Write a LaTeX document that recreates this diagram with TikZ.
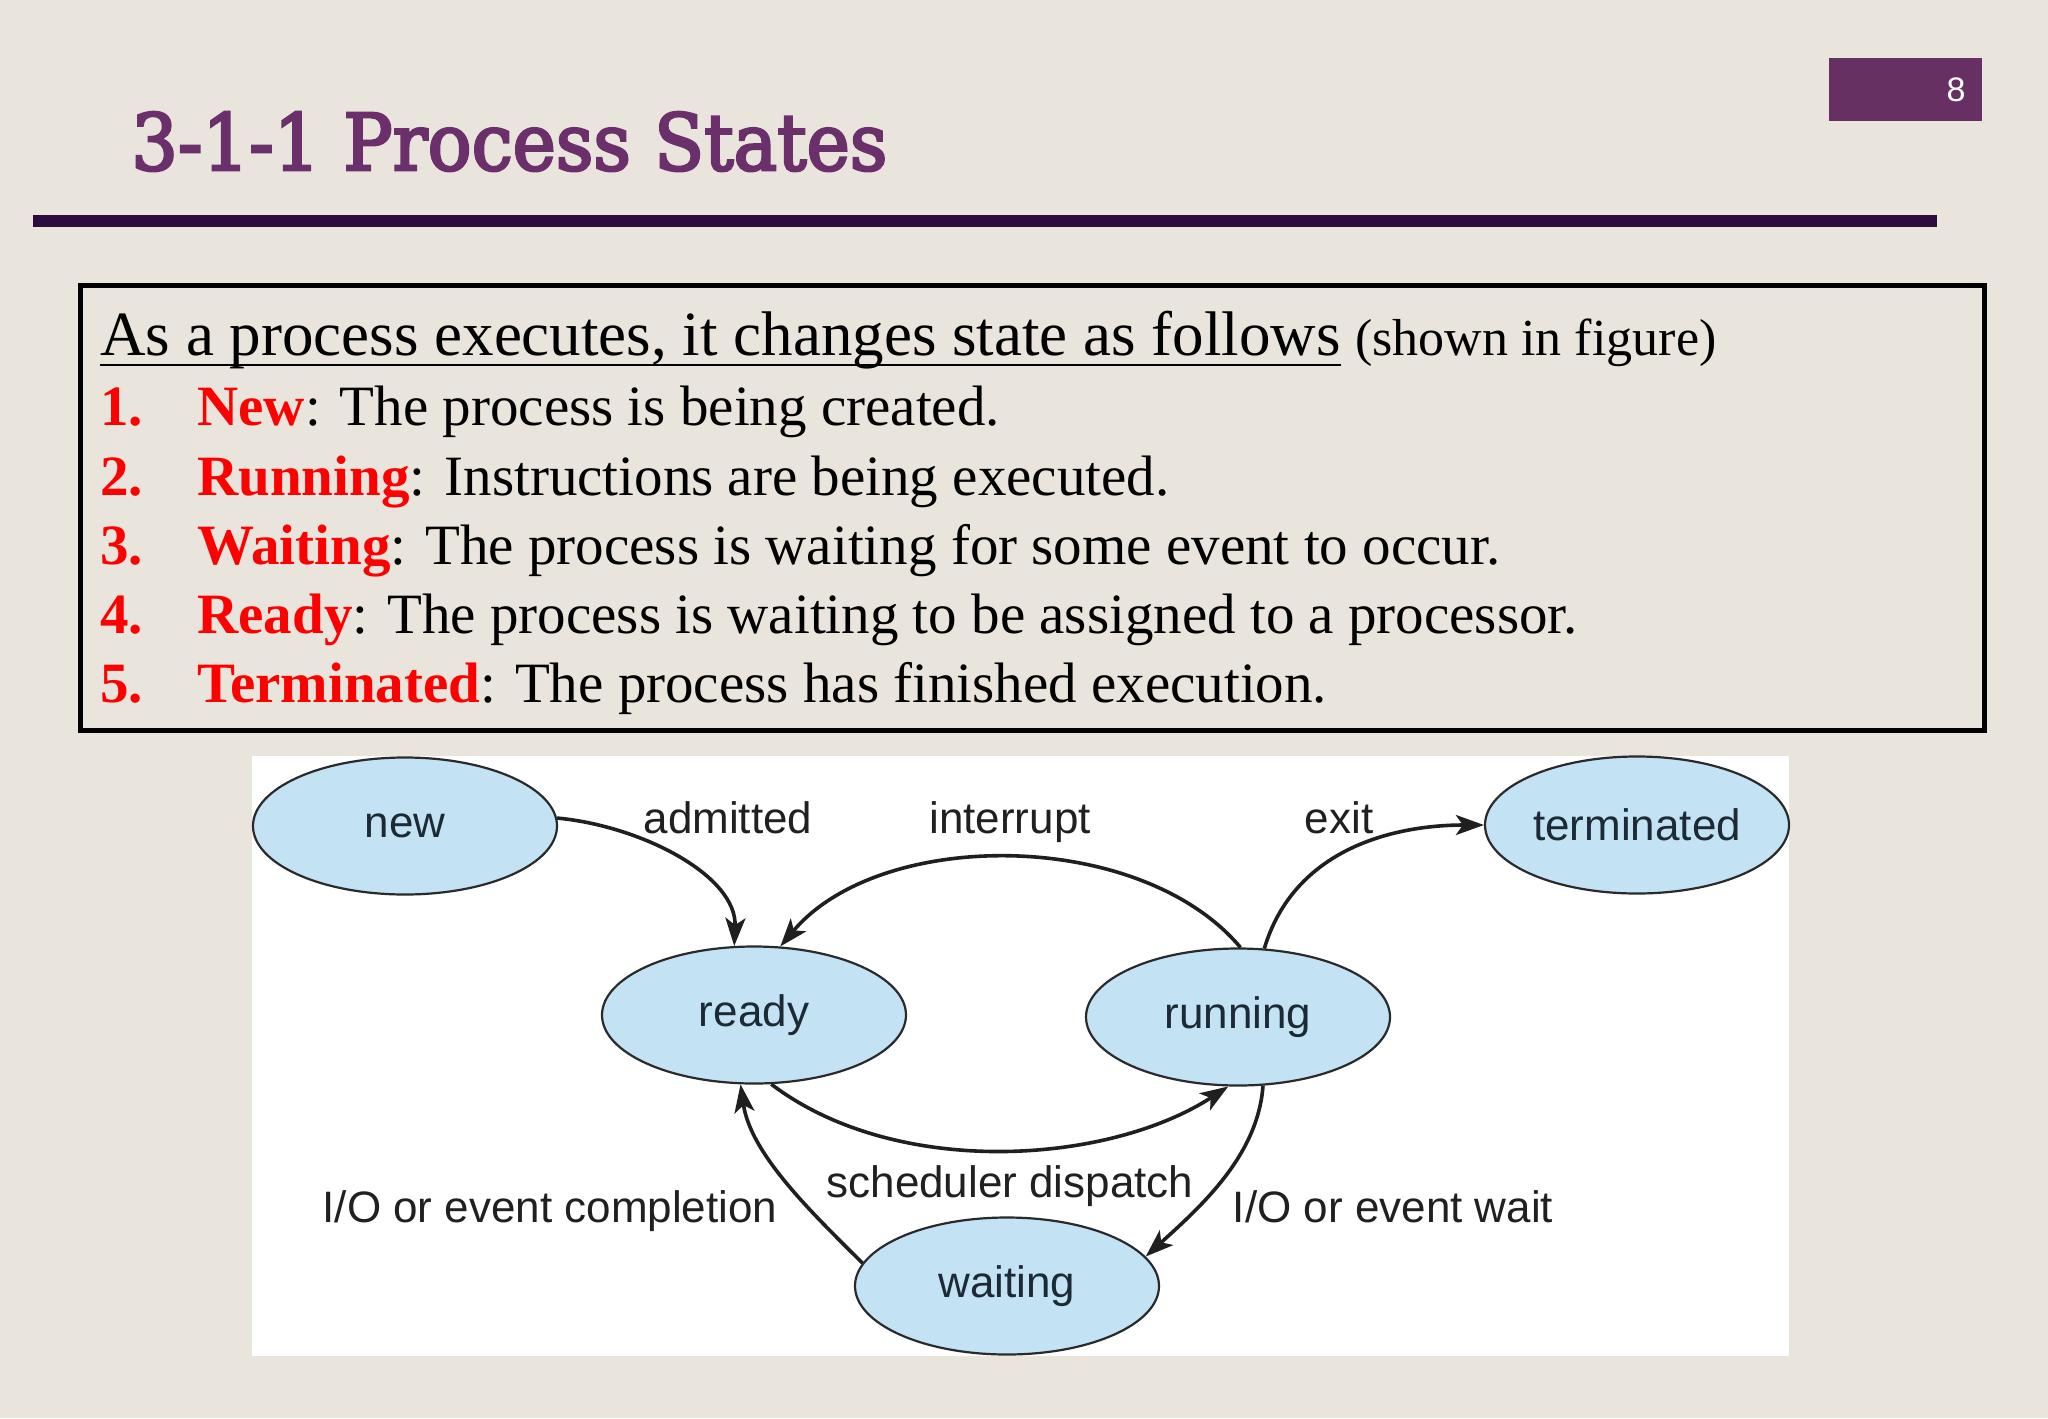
\documentclass[tikz,border=0pt]{standalone}
\usepackage{fontspec}
\usepackage{graphicx}
\setmainfont{Liberation Serif}
\newfontfamily\diagfont{Liberation Sans}
\newfontfamily\titlefont[FakeBold=3.5]{DejaVu Serif}
\usetikzlibrary{arrows.meta,shapes.geometric}
\definecolor{bg}{HTML}{E9E4DC}
\definecolor{titlec}{HTML}{6B2F6B}
\definecolor{barc}{HTML}{2E0C3E}
\definecolor{pagec}{HTML}{663062}
\definecolor{itemred}{HTML}{FF0000}
\definecolor{ellfill}{HTML}{C3E3F5}
\definecolor{ellborder}{HTML}{2A2A2A}
\definecolor{nodetext}{HTML}{1C2A36}
\definecolor{labeltext}{HTML}{202020}
\tikzset{
  state/.style={ellipse, draw=ellborder, fill=ellfill, line width=1.1pt,
    minimum width=152pt, minimum height=68.5pt, inner sep=0pt,
    font=\diagfont\fontsize{22}{26}\selectfont, text=nodetext},
  trans/.style={line width=1.8pt, draw=black!88,
    -{Stealth[length=14pt,width=10pt,inset=3.5pt]}},
  edgelabel/.style={anchor=base, inner sep=0pt,
    font=\diagfont\fontsize{22}{26}\selectfont, text=labeltext},
  itemnum/.style={anchor=base west, inner sep=0pt, text=itemred,
    font=\bfseries\fontsize{28.5}{33}\selectfont},
  itemtext/.style={anchor=base west, inner sep=0pt,
    font=\fontsize{28.5}{33}\selectfont},
}
\newcommand{\redword}[1]{\textcolor{itemred}{\textbf{#1}}}
\begin{document}
\begin{tikzpicture}[x=0.5pt,y=-0.5pt]
  % background and bounding box
  \fill[bg] (0,0) rectangle (2048,1418);
  \useasboundingbox (0,0) rectangle (2048,1418);

  % page number box
  \node[fill=pagec, minimum width=76.5pt, minimum height=31.5pt, inner sep=0pt]
    (pagebox) at (1905.5,89.5) {};
  \node[anchor=east, inner sep=0pt, text=white,
    font=\diagfont\fontsize{17}{20}\selectfont] (pagenum) at (1966,90) {8};

  % title and rule
  \node[anchor=base west, inner sep=0pt, text=titlec] (title) at (131,170)
    {\resizebox{378pt}{29pt}{\titlefont 3-1-1 Process States}};
  \fill[barc] (33,215) rectangle (1937,227);

  % text box
  \draw[line width=2.5pt] (80.5,285.5) rectangle (1984.5,730.5);
  \node[anchor=base west, inner sep=0pt, font=\fontsize{31.5}{36}\selectfont]
    (intro) at (100,355) {As a process executes, it changes state as follows};
  \draw[line width=1.3pt] ([yshift=-5pt]intro.base west) -- ([yshift=-5pt]intro.base east);
  \node[anchor=base west, inner sep=0pt, font=\fontsize{26}{30}\selectfont]
    (intronote) at (1355,355) {(shown in figure)};

  \node[itemnum] (n1) at (100,425) {1.};
  \node[itemtext] (t1) at (197,425) {\redword{New}: The process is being created.};
  \node[itemnum] (n2) at (100,495) {2.};
  \node[itemtext] (t2) at (197,495) {\redword{Running}: Instructions are being executed.};
  \node[itemnum] (n3) at (100,564) {3.};
  \node[itemtext] (t3) at (197,564) {\redword{Waiting}: The process is waiting for some event to occur.};
  \node[itemnum] (n4) at (100,633) {4.};
  \node[itemtext] (t4) at (197,633) {\redword{Ready}: The process is waiting to be assigned to a processor.};
  \node[itemnum] (n5) at (100,702) {5.};
  \node[itemtext] (t5) at (197,702) {\redword{Terminated}: The process has finished execution.};

  % diagram panel
  \fill[white] (252,756) rectangle (1789,1356);

  % states
  \node[state] (new) at (405,826) {new};
  \node[state] (terminated) at (1637,825) {terminated};
  \node[state] (ready) at (754,1015) {ready};
  \node[state] (running) at (1238,1017) {running};
  \node[state] (waiting) at (1007,1286) {waiting};

  % transitions
  \draw[trans] (new.3) .. controls +(85,8) and +(3,-70) .. (ready.106);
  \draw[trans] (running.88) .. controls +(-100,-119) and +(100,-119) .. (ready.69);
  \draw[trans] (running.69) .. controls +(30,-100) and +(-90,0) .. (terminated.west);
  \draw[trans] (ready.-76) .. controls +(125,95) and +(-120,78) .. (running.-98);
  \draw[trans] (running.-70) .. controls +(-5,70) and +(55,-50) .. (waiting.12);
  \draw[trans] (waiting.171) .. controls +(-50,-50) and +(10,70) .. (ready.-101);

  % transition labels
  \node[edgelabel] (ladmitted) at (728,833) {admitted};
  \node[edgelabel] (linterrupt) at (1010,833) {interrupt};
  \node[edgelabel] (lexit) at (1339,833) {exit};
  \node[edgelabel] (ldispatch) at (1010,1197) {scheduler dispatch};
  \node[edgelabel] (lcompletion) at (550,1222) {I/O or event completion};
  \node[edgelabel] (lwait) at (1393,1222) {I/O or event wait};
\end{tikzpicture}
\end{document}
